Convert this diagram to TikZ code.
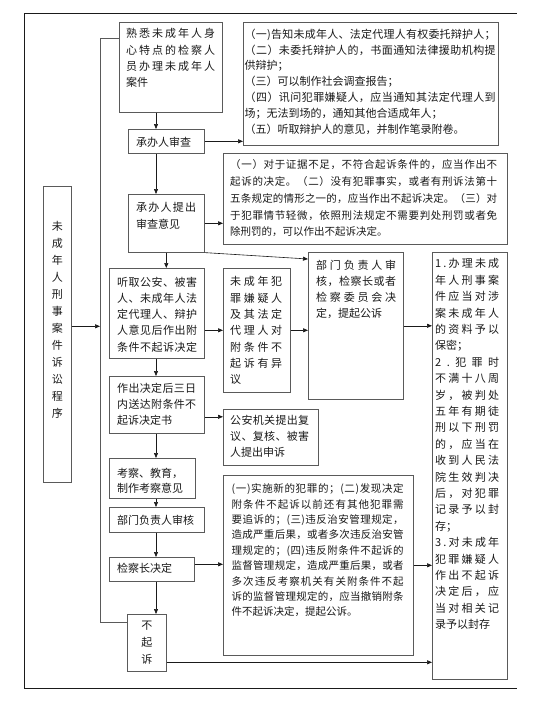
\documentclass[tikz,border=0pt]{standalone}
\usepackage{fontspec}
\setmainfont{Noto Sans CJK SC}
\usetikzlibrary{arrows.meta}
\definecolor{Edge}{HTML}{5A5A5A}
\definecolor{Ink}{HTML}{1A1A1A}
% spread the characters of one line over a given width
\makeatletter
\def\sprd#1{\sprd@a#1\sprd@end}
\def\sprd@end{}
\def\sprd@a#1#2{#1\ifx#2\sprd@end\else\hfil\expandafter\sprd@a\expandafter#2\fi}
\makeatother
\newcommand\jl[2]{\makebox[#1pt][s]{\sprd{#2}}}

\begin{document}
\begin{tikzpicture}[x=1pt,y=-1pt,>={Triangle[length=5pt,width=4pt]},
  box/.style={draw=Edge,line width=.6pt,anchor=north west,inner sep=0pt},
  txt/.style={anchor=north west,inner sep=0pt,align=left,text=Ink,font=\fontsize{11}{16.3}\selectfont},
  link/.style={->,draw=Ink,line width=.6pt}]
\useasboundingbox (0,0) rectangle (535,702);
\fill[white] (0,0) rectangle (535,702);
% frame
\draw[Ink,line width=.8pt] (24,688) -- (24,13) -- (517,13);
\draw[Ink,line width=.8pt] (24,688) -- (517,688);
% left column
\node[box,minimum width=28,minimum height=296] (proc) at (43,186) {};
\node[txt,anchor=center,align=center,font=\fontsize{11}{17}\selectfont] (proc-t) at ([yshift=14]proc.center) {未\\成\\年\\人\\刑\\事\\案\\件\\诉\\讼\\程\\序};
% middle column
\node[box,minimum width=103,minimum height=90,label={[txt,xshift=7,yshift=-6.5]north west:{\jl{89}{熟悉未成年人身}\\\jl{89}{心特点的检察人}\\\jl{89}{员办理未成年人}\\案件}}] (know) at (119,22) {};
\node[box,minimum width=76,minimum height=24,label={[txt,xshift=8,yshift=-7.5]north west:{承办人审查}}] (rev) at (128,129) {};
\node[box,minimum width=76,minimum height=58,label={[txt,xshift=8,yshift=-8.5]north west:{\jl{60}{承办人提出}\\审查意见}}] (opin) at (128,194) {};
\node[box,minimum width=95,minimum height=90,label={[txt,xshift=8,yshift=-8.5]north west:{\jl{80}{听取公安、被害}\\\jl{80}{人、未成年人法}\\\jl{80}{定代理人、辩护}\\\jl{80}{人意见后作出附}\\\jl{80}{条件不起诉决定}}}] (hear) at (109,268) {};
\node[box,minimum width=95,minimum height=57,label={[txt,xshift=8,yshift=-6.5]north west:{\jl{79}{作出决定后三日}\\\jl{79}{内送达附条件不}\\起诉决定书}}] (send) at (109,376) {};
\node[box,minimum width=86,minimum height=40,label={[txt,xshift=8,yshift=-9.5,font=\fontsize{11}{15}\selectfont]north west:{考察、教育，\\制作考察意见}}] (watch) at (109,458) {};
\node[box,minimum width=95,minimum height=25,label={[txt,xshift=8,yshift=-7.5]north west:{部门负责人审核}}] (dept) at (109,507) {};
\node[box,minimum width=85,minimum height=24,label={[txt,xshift=8,yshift=-5.5]north west:{检察长决定}}] (head) at (109,557) {};
\node[box,minimum width=39,minimum height=57,align=center,text=Ink,font=\fontsize{11}{17}\selectfont] (nopr) at (127,614) {不\\起\\诉};
% right side
\node[box,minimum width=255,minimum height=123,label={[txt,xshift=1.5,yshift=-6.5,font=\fontsize{11}{15.9}\selectfont]north west:{\jl{251}{（一)告知未成年人、法定代理人有权委托辩护人；}\\\jl{251}{（二）未委托辩护人的，书面通知法律援助机构提}\\供辩护；\\（三）可以制作社会调查报告；\\\jl{251}{（四）讯问犯罪嫌疑人，应当通知其法定代理人到}\\场；无法到场的，通知其他合适成年人；\\（五）听取辩护人的意见，并制作笔录附卷。}}] (notice) at (243,22) {};
\node[box,minimum width=284,minimum height=91,label={[txt,xshift=7,yshift=-6.5,font=\fontsize{10.5}{16.8}\selectfont]north west:{\jl{267}{（一）对于证据不足，不符合起诉条件的，应当作出不}\\\jl{267}{起诉的决定。（二）没有犯罪事实，或者有刑诉法第十}\\\jl{267}{五条规定的情形之一的，应当作出不起诉决定。（三）对}\\\jl{267}{于犯罪情节轻微，依照刑法规定不需要判处刑罚或者免}\\除刑罚的，可以作出不起诉决定。}}] (nopros) at (223,153) {};
\node[box,minimum width=67,minimum height=124,label={[txt,xshift=7,yshift=-8.5]north west:{\jl{52}{未成年犯}\\\jl{52}{罪嫌疑人}\\\jl{52}{及其法定}\\\jl{52}{代理人对}\\\jl{52}{附条件不}\\\jl{52}{起诉有异}\\议}}] (objc) at (223,268) {};
\node[box,minimum width=95,minimum height=147,label={[txt,xshift=8,yshift=-7.5]north west:{\jl{80}{部门负责人审}\\\jl{80}{核，检察长或者}\\\jl{80}{检察委员会决}\\定，提起公诉}}] (chief) at (308,252) {};
\node[box,minimum width=95,minimum height=56,label={[txt,xshift=7,yshift=-6.5,font=\fontsize{11}{16}\selectfont]north west:{\jl{79}{公安机关提出复}\\\jl{79}{议、复核、被害}\\人提出申诉}}] (appeal) at (223,409) {};
\node[box,minimum width=190,minimum height=180,label={[txt,xshift=8.5,yshift=-8.5,font=\fontsize{10.5}{15.4}\selectfont]north west:{\jl{172}{(一)实施新的犯罪的；(二)发现决定}\\\jl{172}{附条件不起诉以前还有其他犯罪需}\\\jl{172}{要追诉的；(三)违反治安管理规定，}\\\jl{172}{造成严重后果，或者多次违反治安管}\\\jl{172}{理规定的；(四)违反附条件不起诉的}\\\jl{172}{监督管理规定，造成严重后果，或者}\\\jl{172}{多次违反考察机关有关附条件不起}\\\jl{172}{诉的监督管理规定的，应当撤销附条}\\件不起诉决定，提起公诉。}}] (revoke) at (223,475) {};
\node[box,minimum width=75,minimum height=427,label={[txt,xshift=3,yshift=-6.5,font=\fontsize{11}{16.4}\selectfont]north west:{\jl{64}{1.办理未成}\\\jl{64}{年人刑事案}\\\jl{64}{件应当对涉}\\\jl{64}{案未成年人}\\\jl{64}{的资料予以}\\保密；\\\jl{64}{2.犯罪时}\\\jl{64}{不满十八周}\\\jl{64}{岁，被判处}\\\jl{64}{五年有期徒}\\\jl{64}{刑以下刑罚}\\\jl{64}{的，应当在}\\\jl{64}{收到人民法}\\\jl{64}{院生效判决}\\\jl{64}{后，对犯罪}\\\jl{64}{记录予以封}\\存；\\\jl{64}{3.对未成年}\\\jl{64}{犯罪嫌疑人}\\\jl{64}{作出不起诉}\\\jl{64}{决定后，应}\\\jl{64}{当对相关记}\\录予以封存}}] (note) at (432,252) {};
% connectors
\coordinate (spine) at (156,0);
\coordinate (brk) at (100,0);
\draw[link] ([yshift=8]proc.east) coordinate (p1) -- (p1 -| brk);
\draw[Edge,line width=.6pt] ([yshift=-16]know.north west) coordinate (b1) -- (b1 -| brk) |- ([yshift=-8]nopr.north west);
\draw[link] (know.south -| spine) -- (rev.north -| spine);
\draw[link] (rev.east) -- (rev.east -| notice.west);
\draw[link] (rev.south -| spine) -- (opin.north -| spine);
\draw[link] (opin.east) -- (opin.east -| nopros.west);
\draw[link] (opin.south east) -- ([yshift=-7]chief.north west);
\draw[link] (opin.south) -- (opin.south |- hear.north);
\draw[link] (objc.west -| hear.east) -- (objc.west);
\draw[link] (objc.east) -- (objc.east -| chief.west);
\draw[link] (chief.east) -- (chief.east -| note.west);
\draw[link] (hear.south -| spine) -- (send.north -| spine);
\draw[link] ([yshift=-12]send.east) coordinate (s1) -- (s1 -| appeal.west);
\draw[link] (send.south -| spine) -- (watch.north -| spine);
\draw[link] (watch.south -| spine) -- (dept.north -| spine);
\draw[link] (dept.south -| spine) -- (head.north -| spine);
\draw[link] ([yshift=5]head.east) coordinate (h1) -- (h1 -| revoke.west);
\draw[link] (revoke.east) -- (revoke.east -| note.west);
\draw[link] (head.south -| spine) -- (nopr.north -| spine);
\draw[link] ([yshift=-19.5]nopr.east) coordinate (n1) -- (n1 -| note.west);
\end{tikzpicture}
\end{document}
